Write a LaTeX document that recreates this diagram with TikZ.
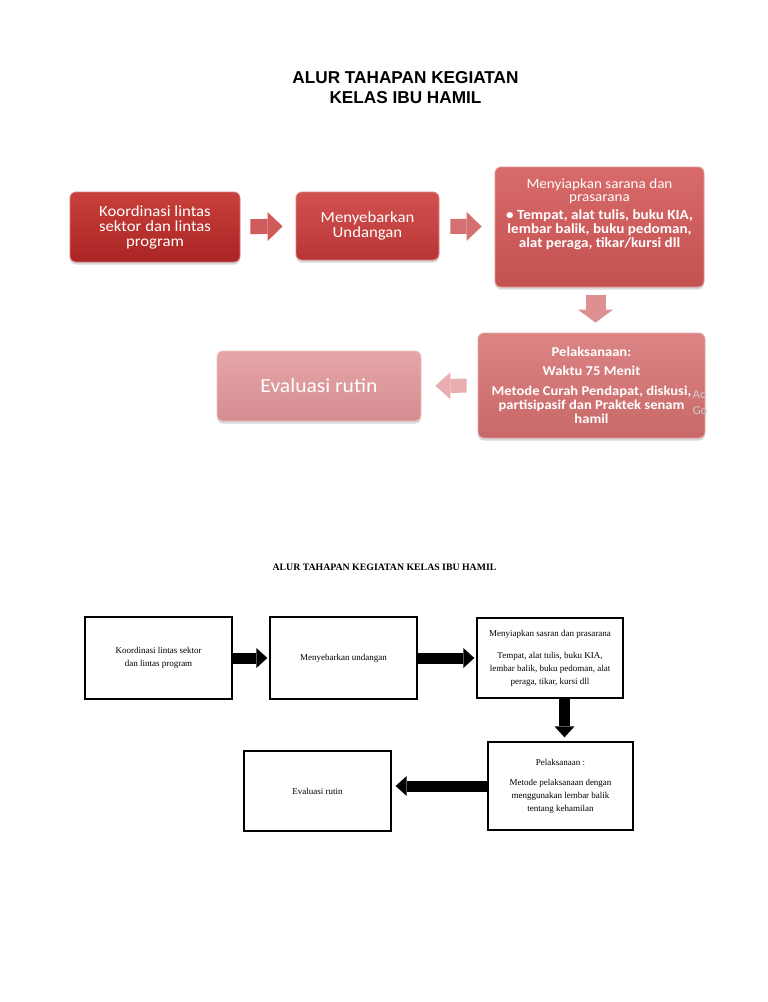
\documentclass[tikz,border=0pt]{standalone}
\usepackage{fontspec}
\setmainfont{Liberation Serif}
\newfontfamily\calibrifont[FakeStretch=1.08]{Carlito}
\newfontfamily\arialfont{Liberation Sans}
\usetikzlibrary{arrows.meta,shadows,calc}

\definecolor{merahA1}{HTML}{C8403B}\definecolor{merahA2}{HTML}{A92424}
\definecolor{merahB1}{HTML}{D25250}\definecolor{merahB2}{HTML}{B93535}
\definecolor{merahC1}{HTML}{D86B6A}\definecolor{merahC2}{HTML}{C45050}
\definecolor{merahD1}{HTML}{DC8484}\definecolor{merahD2}{HTML}{C96868}
\definecolor{merahE1}{HTML}{E6A6A8}\definecolor{merahE2}{HTML}{D48C90}
\definecolor{panah1}{HTML}{CF5B5B}\definecolor{panah2}{HTML}{D66F6F}
\definecolor{panah3}{HTML}{DE8F8F}\definecolor{panah4}{HTML}{E9AEB0}

\tikzset{>=latex,
  kotak/.style 2 args={rounded corners=6pt, top color=#1, bottom color=#2, draw=#1!70!white, line width=0.8pt,
    drop shadow={shadow xshift=0pt, shadow yshift=-2.5pt, opacity=.3}, text=white, align=center,
    inner sep=0pt, font=\calibrifont\fontsize{15.5}{15}\selectfont},
  panahbesar/.style={line width=15pt, -{Triangle[length=15pt, width=29pt, line width=0pt]}},
  kotakputih/.style={draw, line width=1.3pt, align=center, inner sep=0pt, font=\fontsize{9}{13}\selectfont},
  panahhitam/.style={line width=11pt, -{Triangle[length=11pt, width=20pt, line width=0pt]}}
}

\begin{document}
\begin{tikzpicture}[x=1pt,y=-1pt]
\useasboundingbox[fill=white] (0,0) rectangle (768,1002);
% bagan atas
\node[font=\arialfont\bfseries\fontsize{17.2}{20}\selectfont, align=center] (t0) at (405.5,88) {ALUR TAHAPAN KEGIATAN\\KELAS IBU HAMIL};
\node[kotak={merahA1}{merahA2}, minimum width=170pt, minimum height=70pt] (n1) at (155,227) {Koordinasi lintas\\sektor dan lintas\\program};
\node[kotak={merahB1}{merahB2}, minimum width=143pt, minimum height=68pt] (n2) at (367.5,226) {Menyebarkan\\Undangan};
\node[kotak={merahC1}{merahC2}, minimum width=209pt, minimum height=120pt] (n3) at (599.5,227) {%
  \begin{minipage}[c][112pt][t]{207pt}\centering\vspace{7.5pt}
  \fontsize{14}{13}\selectfont Menyiapkan sarana dan\\prasarana\par\vspace{5pt}
  \fontsize{14}{13.7}\selectfont\bfseries • Tempat, alat tulis, buku KIA,\\lembar balik, buku pedoman,\\alat peraga, tikar/kursi dll
  \end{minipage}};
\node[kotak={merahD1}{merahD2}, minimum width=227pt, minimum height=105pt, font=\calibrifont\bfseries\fontsize{13.5}{14}\selectfont] (n4) at (591.5,385.5) {Pelaksanaan:\\[5pt]Waktu 75 Menit\\[5.5pt]Metode Curah Pendapat, diskusi,\\partisipasif dan Praktek senam\\hamil};
\node[kotak={merahE1}{merahE2}, minimum width=204pt, minimum height=70pt, font=\calibrifont\fontsize{20}{22}\selectfont] (n5) at (319,386) {Evaluasi rutin};
\node[text=gray!40, font=\calibrifont\fontsize{12}{16}\selectfont, align=left, inner sep=0pt] (wm) at (700,403) {Ac\\Go};
\draw[panahbesar, draw=panah1, fill=panah1, shorten <=10pt, shorten >=13pt] (n1) -- (n2);
\draw[panahbesar, draw=panah2, fill=panah2, shorten <=11pt, shorten >=13pt] (n2) -- (n3);
\coordinate (m1) at ($(n3.south)!.5!(n4.north)$);
\draw[line width=20pt, -{Triangle[length=13pt, width=35pt, line width=0pt]}, draw=panah3, fill=panah3, shorten <=8pt, shorten >=10pt] (m1 |- n3.south) -- (m1 |- n4.north);
\draw[line width=14pt, -{Triangle[length=15pt, width=27pt, line width=0pt]}, draw=panah4, fill=panah4, shorten <=11pt, shorten >=14pt] (n4) -- (n5);
% bagan bawah
\node[font=\bfseries\fontsize{9.8}{11}\selectfont] (t1) at (384.5,567) {ALUR TAHAPAN KEGIATAN KELAS IBU HAMIL};
\node[kotakputih, minimum width=147pt, minimum height=82pt] (a1) at (158.5,658) {Koordinasi lintas sektor\\dan lintas program};
\node[kotakputih, minimum width=147pt, minimum height=82pt] (a2) at (343.5,658) {Menyebarkan undangan};
\node[kotakputih, minimum width=146pt, minimum height=80pt] (a3) at (550,658) {Menyiapkan sasran dan prasarana\\[9pt]Tempat, alat tulis, buku KIA,\\lembar balik, buku pedoman, alat\\peraga, tikar, kursi dll};
\node[kotakputih, minimum width=145pt, minimum height=88pt] (a4) at (560.5,786) {Pelaksanaan :\\[7pt]Metode pelaksanaan dengan\\menggunakan lembar balik\\tentang kehamilan};
\node[kotakputih, minimum width=147pt, minimum height=80pt] (a5) at (317.5,791) {Evaluasi rutin};
\draw[panahhitam, shorten >=2pt] (a1.east) -- (a2.west);
\draw[panahhitam, shorten >=2pt] (a2.east) -- (a3.west);
\coordinate (m2) at ([xshift=14.5pt]a3.south);
\draw[panahhitam, shorten >=4pt] (m2) -- (m2 |- a4.north);
\draw[panahhitam, shorten >=4pt] (a4.west) -- (a4.west -| a5.east);
\end{tikzpicture}
\end{document}
